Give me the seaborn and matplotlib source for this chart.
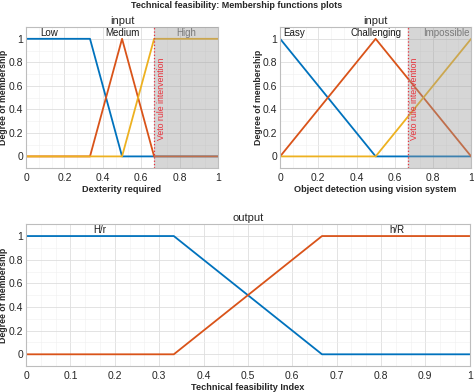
"""
Membership function plots for the technical feasibility fuzzy system.
"""
import seaborn as sns
import pandas as pd
import matplotlib.pyplot as plt
from matplotlib.ticker import MultipleLocator, FormatStrFormatter

# Input 1: dexterity required
dex_x = {
    "Low": [0, 0.333, 0.5, 1],
    "Medium": [0, 0.333, 0.5, 0.667, 1],
    "High": [0, 0.5, 0.667, 1],
}
dex_y = {
    "Low": [1, 1, 0, 0],
    "Medium": [0, 0, 1, 0, 0],
    "High": [0, 0, 1, 1],
}

# Input 2: object detection using vision system
obj_x = {
    "Easy": [0, 0.5, 1],
    "Challenging": [0, 0.5, 1],
    "Impossible": [0, 0.5, 1],
}
obj_y = {
    "Easy": [1, 0, 0],
    "Challenging": [0, 1, 0],
    "Impossible": [0, 0, 1],
}

# Output: technical feasibility index
out_x = {
    "H/r": [0, 0.333, 0.667, 1],
    "h/R": [0, 0.333, 0.667, 1],
}
out_y = {
    "H/r": [1, 1, 0, 0],
    "h/R": [0, 0, 1, 1],
}

veto = 0.667
colors = ["#0072BD", "#D95319", "#EDB120"]
red = "#E8303A"


def to_frame(xs, ys):
    rows = []
    for name in xs:
        for x, y in zip(xs[name], ys[name]):
            rows.append({"mf": name, "x": x, "y": y})
    return pd.DataFrame(rows)


def style_axes(ax, xstep, title, xlabel, ylab_x):
    ax.set_xlim(0, 1)
    ax.set_ylim(-0.1, 1.1)
    ax.xaxis.set_major_locator(MultipleLocator(xstep))
    ax.xaxis.set_minor_locator(MultipleLocator(xstep / 3))
    ax.yaxis.set_major_locator(MultipleLocator(0.2))
    ax.yaxis.set_minor_locator(MultipleLocator(0.1))
    ax.xaxis.set_major_formatter(FormatStrFormatter("%g"))
    ax.yaxis.set_major_formatter(FormatStrFormatter("%g"))
    ax.grid(True, which="major", color="#dedede", lw=0.6)
    ax.grid(True, which="minor", color="#efefef", lw=0.4)
    ax.set_axisbelow(True)
    for s in ax.spines.values():
        s.set_color("#bdbdbd")
        s.set_linewidth(0.8)
    ax.tick_params(axis="both", which="major", direction="in", length=2.5,
                   width=0.6, color="#9a9a9a", labelsize=7.5, pad=2,
                   labelcolor="#262626")
    ax.tick_params(axis="x", which="major", pad=3.5)
    ax.tick_params(axis="both", which="minor", length=0)
    ax.set_title(title, fontsize=8, pad=2)
    ax.set_xlabel(xlabel, fontsize=6.6, fontweight="bold", labelpad=1.5)
    ax.set_ylabel("Degree of membership", fontsize=6.3, fontweight="bold")
    ax.yaxis.set_label_coords(ylab_x, 0.5)


def draw_mfs(ax, xs, ys):
    df = to_frame(xs, ys)
    sns.lineplot(data=df, x="x", y="y", hue="mf", palette=colors[:len(xs)],
                 ax=ax, lw=1.3, legend=False, sort=False, estimator=None)


def add_veto(ax):
    ax.axvspan(veto, 1, color="#9a9a9a", alpha=0.4, lw=0, zorder=3)
    ax.axvline(veto, color=red, ls=":", lw=0.9, zorder=4)
    ax.text(veto + 0.015, 0.14, "Veto rule intervention", rotation=90,
            color=red, fontsize=6.3, ha="left", va="bottom", zorder=5)


def mf_label(ax, x, s, ha="center", color="#1a1a1a"):
    ax.text(x, 1.05, s, fontsize=7, ha=ha, va="center", color=color,
            zorder=6)


sns.set_style("whitegrid")
plt.rcParams["font.family"] = ["Liberation Sans", "DejaVu Sans"]

fig = plt.figure(figsize=(4.74, 3.92), dpi=100)
fig.suptitle("Technical feasibility: Membership functions plots",
             fontsize=6.5, fontweight="bold", y=0.997)

ax1 = fig.add_axes([0.055, 0.571, 0.405, 0.36])
draw_mfs(ax1, dex_x, dex_y)
add_veto(ax1)
mf_label(ax1, 0.12, "Low")
mf_label(ax1, 0.5, "Medium")
mf_label(ax1, 0.833, "High", color="#7a7a7a")
style_axes(ax1, 0.2, "input", "Dexterity required", -0.092)

ax2 = fig.add_axes([0.591, 0.571, 0.403, 0.36])
draw_mfs(ax2, obj_x, obj_y)
add_veto(ax2)
mf_label(ax2, 0.015, "Easy", ha="left")
mf_label(ax2, 0.5, "Challenging")
mf_label(ax2, 0.99, "Impossible", ha="right", color="#7a7a7a")
style_axes(ax2, 0.2, "input", "Object detection using vision system", -0.092)

ax3 = fig.add_axes([0.055, 0.066, 0.936, 0.362])
draw_mfs(ax3, out_x, out_y)
mf_label(ax3, 0.165, "H/r")
mf_label(ax3, 0.835, "h/R")
style_axes(ax3, 0.1, "output", "Technical feasibility Index", -0.04)

plt.savefig("out.png", dpi=100)
